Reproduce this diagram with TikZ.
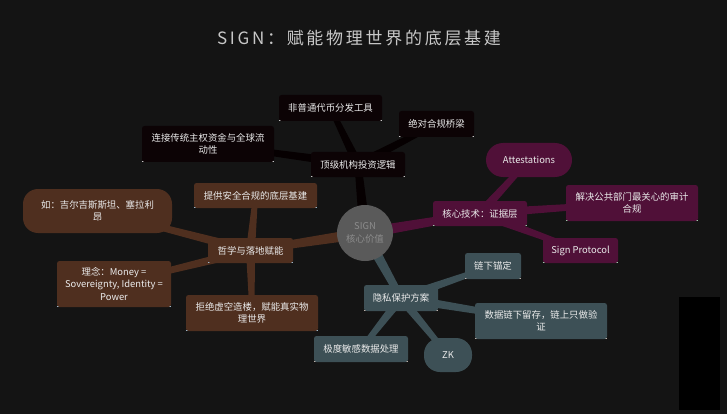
\documentclass[tikz,border=0pt]{standalone}
\usepackage{fontspec}
\setmainfont{Noto Sans CJK SC}
\usetikzlibrary{backgrounds,calc}
\definecolor{bg}{RGB}{20,20,20}
\definecolor{titlec}{RGB}{200,200,200}
\definecolor{boxtext}{RGB}{235,235,235}
\definecolor{blkfill}{RGB}{12,3,5}
\definecolor{blkline}{RGB}{6,0,1}
\definecolor{blkul}{RGB}{225,225,225}
\definecolor{brnfill}{RGB}{79,47,31}
\definecolor{brnul}{RGB}{170,205,228}
\definecolor{purfill}{RGB}{80,16,56}
\definecolor{purul}{RGB}{170,228,188}
\definecolor{slfill}{RGB}{61,80,86}
\definecolor{slul}{RGB}{208,192,184}
\definecolor{cfill}{RGB}{90,90,90}
\definecolor{ctext}{RGB}{140,140,140}
% tapered connector: colour, from node, to node, start half-width, end half-width
\newcommand\taperln[5]{%
  \fill[#1] let \p1=(#2.center), \p2=(#3.center), \n1={atan2(\y2-\y1,\x2-\x1)} in
    ($(\p1)+(\n1+90:#4)$) -- ($(\p2)+(\n1+90:#5)$) --
    ($(\p2)+(\n1-90:#5)$) -- ($(\p1)+(\n1-90:#4)$) -- cycle;}
\begin{document}
\begin{tikzpicture}[x=1pt,y=-1pt,
  box/.style={rectangle, rounded corners=2.5pt, inner sep=0pt, align=center,
    text=boxtext, font=\fontsize{9.4}{12.5}\selectfont},
  ul/.style={append after command={\pgfextra{\draw[#1,line width=1.6pt]
    ([yshift=0.8pt]\tikzlastnode.south west) -- ([yshift=0.8pt]\tikzlastnode.south east);}}},
  sz/.style 2 args={minimum width=#1pt, minimum height=#2pt},
  blk/.style={box, fill=blkfill, ul=blkul},
  brn/.style={box, fill=brnfill, ul=brnul},
  pur/.style={box, fill=purfill, ul=purul},
  sl/.style={box, fill=slfill, ul=slul},
  centre/.style={circle, fill=cfill, minimum size=56pt, inner sep=0pt, align=center,
    text=ctext, font=\fontsize{9.4}{12.5}\selectfont},
  titlestyle/.style={text=titlec, font=\fontsize{17}{20}\selectfont\addfontfeatures{LetterSpace=16}},
  blackbox/.style={fill=black}
]
\useasboundingbox (0,0) rectangle (727,414);
\begin{pgfonlayer}{background}
\fill[bg] (0,0) rectangle (727,414);
\end{pgfonlayer}

\node[titlestyle] (title) at (359,38) {SIGN：赋能物理世界的底层基建};

\node[centre] (c) at (365,233) {SIGN\\核心价值};

% black group
\node[blk, sz={94}{25}] (top) at (358,164.5) {顶级机构投资逻辑};
\node[blk, sz={103}{26}] (tok) at (330.5,108) {非普通代币分发工具};
\node[blk, sz={75}{26}] (bridge) at (436.5,124) {绝对合规桥梁};
\node[blk, sz={132}{36}] (conn) at (208,144) {连接传统主权资金与全球流\\动性};

% brown group
\node[brn, sz={85}{25}] (phil) at (250.5,250.5) {哲学与落地赋能};
\node[brn, sz={123}{25}] (infra) at (255.5,195.5) {提供安全合规的底层基建};
\node[box, fill=brnfill, sz={149}{44}, rounded corners=15pt] (kg) at (97.5,211) {如：吉尔吉斯斯坦、塞拉利\\昂};
\node[brn, sz={114}{46}] (idea) at (114,284) {理念：Money =\\Sovereignty, Identity =\\Power};
\node[brn, sz={132}{36}] (reject) at (252,313) {拒绝虚空造楼，赋能真实物\\理世界};

% purple group
\node[pur, sz={94}{25}] (tech) at (480,213.5) {核心技术：证据层};
\node[box, fill=purfill, sz={86}{34}, rounded corners=17pt] (att) at (529,160) {Attestations};
\node[pur, sz={132}{36}] (audit) at (632,203) {解决公共部门最关心的审计\\合规};
\node[pur, sz={75}{25}] (sp) at (580.5,250.5) {Sign Protocol};

% slate group
\node[sl, sz={74}{26}] (priv) at (401,298) {隐私保护方案};
\node[sl, sz={56}{26}] (anchor) at (493,266) {链下锚定};
\node[sl, sz={132}{36}] (data) at (541,321) {数据链下留存，链上只做验\\证};
\node[box, fill=slfill, sz={48}{34}, rounded corners=16pt] (zk) at (448,355) {ZK};
\node[sl, sz={94}{26}] (sens) at (361,349) {极度敏感数据处理};

% black rectangle bottom right
\fill[blackbox] (679,297) rectangle (720,410);

\begin{pgfonlayer}{background}
\taperln{blkline}{c}{top}{5.5pt}{3.5pt}
\taperln{brnfill}{c}{phil}{5.5pt}{3.5pt}
\taperln{purfill}{c}{tech}{5.5pt}{3.5pt}
\taperln{slfill}{c}{priv}{5.5pt}{3.5pt}
\taperln{blkline}{top}{tok}{4.5pt}{2.5pt}
\taperln{blkline}{top}{bridge}{4.5pt}{2.5pt}
\taperln{blkline}{top}{conn}{4.5pt}{2.5pt}
\taperln{brnfill}{phil}{infra}{4.5pt}{2.5pt}
\taperln{brnfill}{phil}{kg}{4.5pt}{2.5pt}
\taperln{brnfill}{phil}{idea}{4.5pt}{2.5pt}
\taperln{brnfill}{phil}{reject}{4.5pt}{2.5pt}
\taperln{purfill}{tech}{att}{4.5pt}{2.5pt}
\taperln{purfill}{tech}{audit}{4.5pt}{2.5pt}
\taperln{purfill}{tech}{sp}{4.5pt}{2.5pt}
\taperln{slfill}{priv}{anchor}{4.5pt}{2.5pt}
\taperln{slfill}{priv}{data}{4.5pt}{2.5pt}
\taperln{slfill}{priv}{zk}{4.5pt}{2.5pt}
\taperln{slfill}{priv}{sens}{4.5pt}{2.5pt}
\end{pgfonlayer}
\end{tikzpicture}
\end{document}
